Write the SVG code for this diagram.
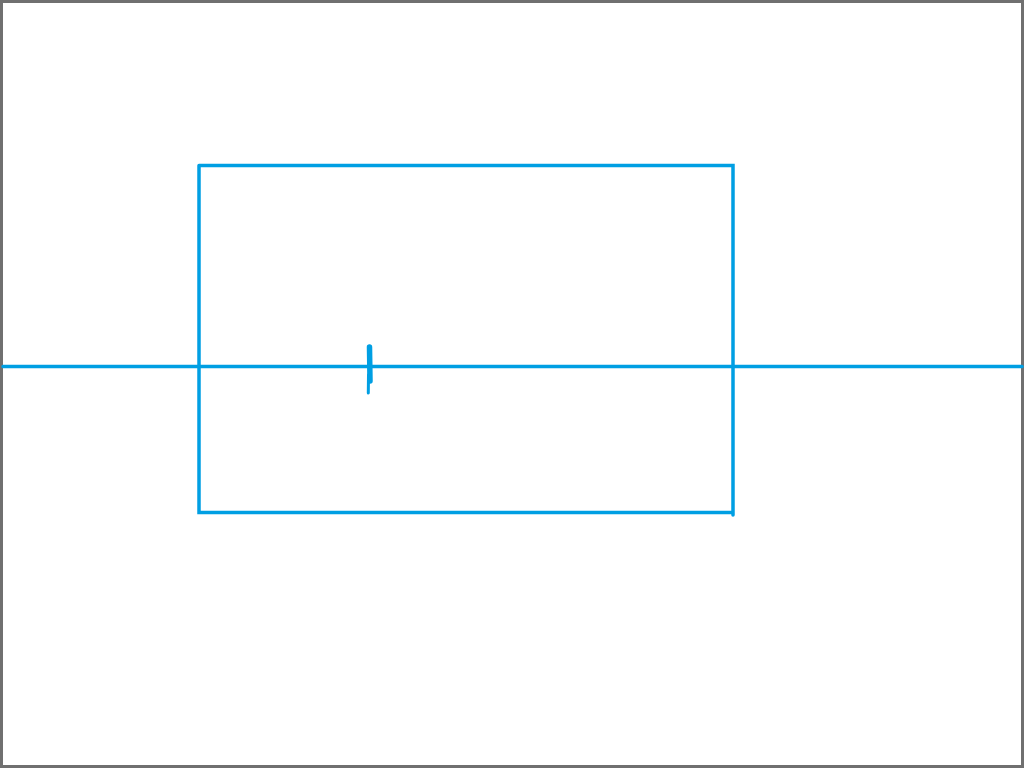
<svg xmlns="http://www.w3.org/2000/svg" width="1024" height="768" viewBox="0 0 1024 768">
<style>
.ln{stroke:#009fe3;stroke-width:3.5;fill:none;stroke-linecap:round}
.tk1{stroke-width:5.5}
.tk2{stroke-width:3}
</style>
<rect x="1.5" y="1.5" width="1021" height="765" fill="#fff" stroke="#707070" stroke-width="3"/>
<g id="frame">
<path class="ln" d="M199,165.5 L733,165.5 L733,515 M199,165.5 L199,512.5 L732,512.5"/>
</g>
<g id="connectors">
<path class="ln" d="M3,366.5 L1022,366.5"/>
</g>
<g id="tick">
<path class="ln tk1" d="M369.5,347 L370,381"/>
<path class="ln tk2" d="M368.5,375 L368.3,393"/>
</g>
</svg>
